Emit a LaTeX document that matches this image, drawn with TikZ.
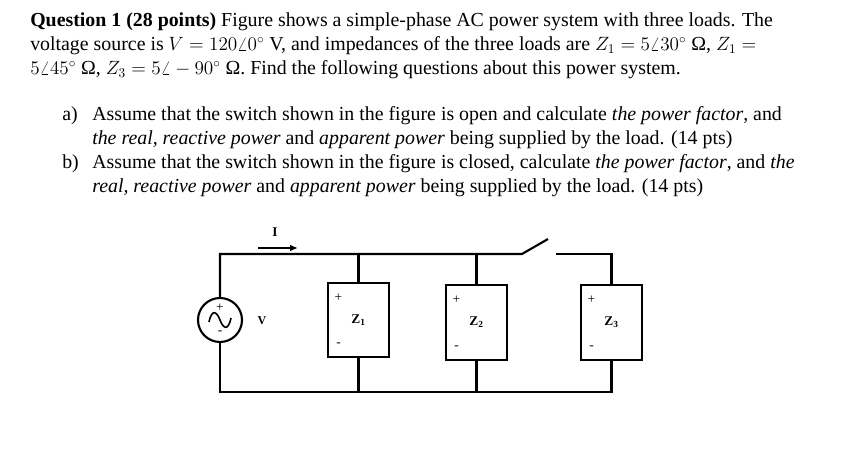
\documentclass[tikz,border=0pt]{standalone}
\usepackage{fontspec}
\setmainfont{Liberation Serif}
\usetikzlibrary{arrows.meta}
\begin{document}
\begin{tikzpicture}[x=0.75pt,y=-0.75pt,
  txt/.style={anchor=west,inner sep=0,font=\fontsize{14.9}{16}\selectfont},
  w/.style={line width=1.6pt},
  box/.style={draw,line width=1.6pt,minimum width=45.75pt,minimum height=56pt,inner sep=0,font=\bfseries\fontsize{10}{11}\selectfont},
  sm/.style={inner sep=0,font=\fontsize{10}{11}\selectfont}]
\useasboundingbox (0,0) rectangle (868,449);
\node[txt] (l1) at (30,22) {\textbf{Question 1 (28 points)} Figure shows a simple-phase AC power system with three loads. The};
\node[txt] (l2) at (30,46) {voltage source is $V = 120\angle0^\circ$ V, and impedances of the three loads are $Z_1 = 5\angle30^\circ$ Ω, $Z_1 =$};
\node[txt] (l3) at (30,70) {$5\angle45^\circ$ Ω, $Z_3 = 5\angle-90^\circ$ Ω. Find the following questions about this power system.};
\node[txt] (a1) at (62,116) {a)};
\node[txt] (a2) at (92,116) {Assume that the switch shown in the figure is open and calculate \textit{the power factor}, and};
\node[txt] (a3) at (92,140) {\textit{the real, reactive power} and \textit{apparent power} being supplied by the load. (14 pts)};
\node[txt] (b1) at (62,164) {b)};
\node[txt] (b2) at (92,164) {Assume that the switch shown in the figure is closed, calculate \textit{the power factor}, and \textit{the}};
\node[txt] (b3) at (92,188) {\textit{real, reactive power} and \textit{apparent power} being supplied by the load. (14 pts)};
% circuit
\node[draw,circle,line width=1.6pt,minimum size=33pt,inner sep=0] (src) at (220,320) {};
\draw[line width=1.2pt] (209,322) .. controls (212,308) and (217,312) .. (220,320) .. controls (223,328) and (228,332) .. (231,318);
\node[sm] (sp) at (220,308) {+};
\node[sm] (sm) at (220,333) {-};
\node[inner sep=0,font=\bfseries\fontsize{9}{10}\selectfont] (V) at (262,321) {V};
\node[box] (Z1) at (358.5,320) {Z\textsubscript{1}};
\node[box] (Z2) at (476.5,322.5) {Z\textsubscript{2}};
\node[box] (Z3) at (611.5,322.5) {Z\textsubscript{3}};
\coordinate (tl) at (220,254); \coordinate (bl) at (220,392);
\coordinate (sw) at (522,254); \coordinate (swe) at (548,239);
\coordinate (sr) at (556,254); \coordinate (tr) at (611.5,254);
\coordinate (br) at (611.5,392);
\draw[w] (src.north) -- (tl) -- (sw) -- (swe);
\draw[w] (sr) -- (tr) -- (Z3.north);
\draw[w] (src.south) -- (bl) -- (br) -- (Z3.south);
\draw[w] (Z1.north) -- (Z1.north|-tl);
\draw[w] (Z1.south) -- (Z1.south|-bl);
\draw[w] (Z2.north) -- (Z2.north|-tl);
\draw[w] (Z2.south) -- (Z2.south|-bl);
\foreach \z in {Z1,Z2,Z3}{
  \node[sm] at ([xshift=-15,yshift=-12]\z.north) {+};
  \node[sm] at ([xshift=-15,yshift=10]\z.south) {-};
}
\coordinate (ia) at (258,248); \coordinate (ib) at (298,248);
\draw[line width=1.2pt,-{Latex[length=6pt,width=5pt]}] (ia) -- (ib);
\node[inner sep=0,font=\bfseries\fontsize{10}{11}\selectfont] (I) at (275,232) {I};
\end{tikzpicture}
\end{document}
